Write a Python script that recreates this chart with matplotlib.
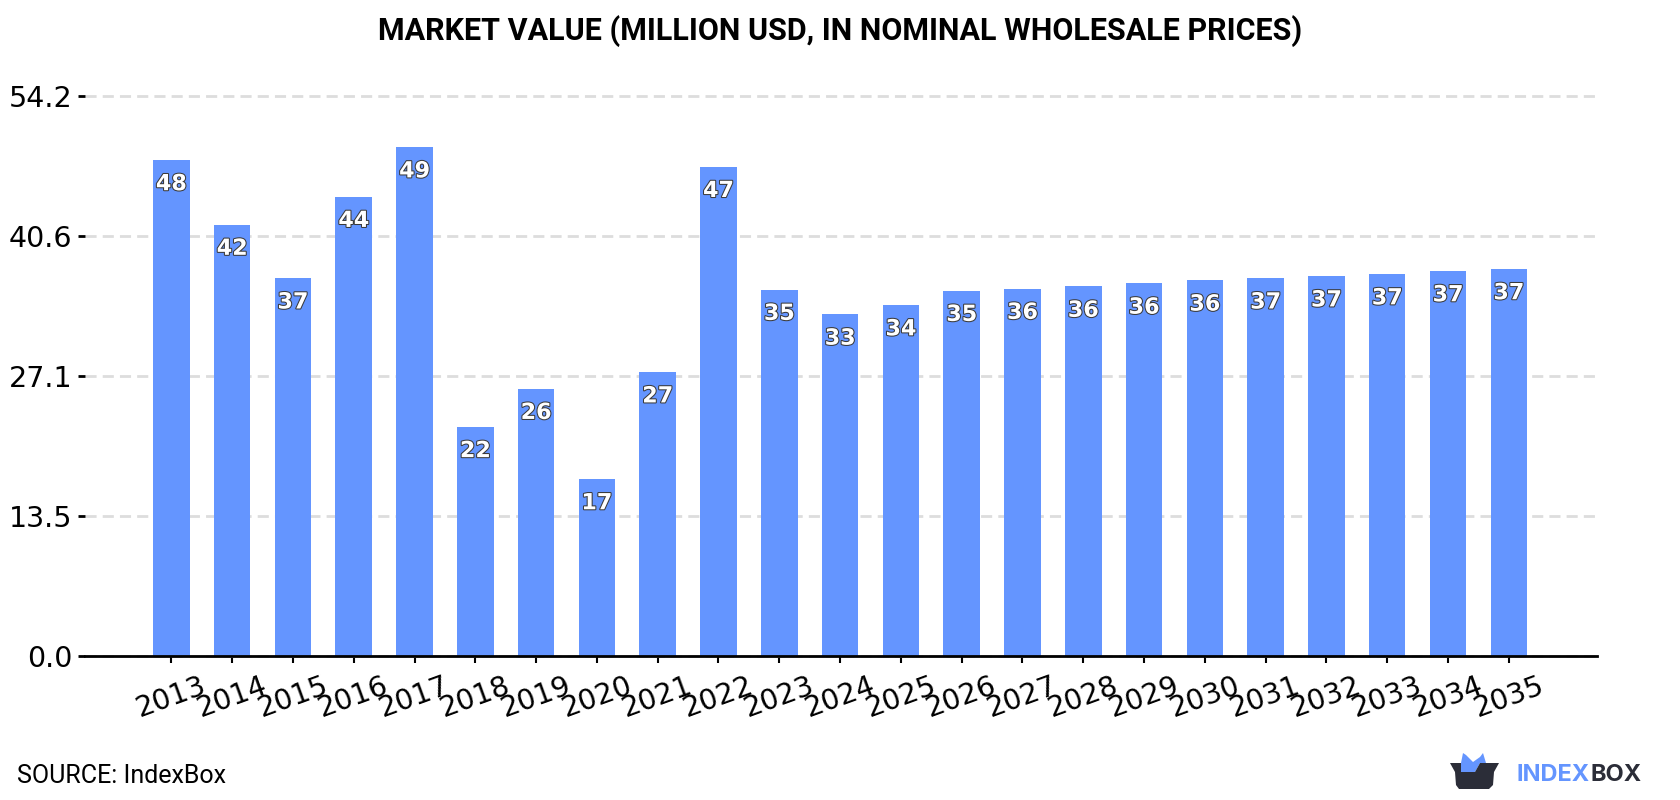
"""Market value bar chart, 2013-2035."""

import matplotlib
matplotlib.use("Agg")
import matplotlib.pyplot as plt
import matplotlib.patheffects as pe
from matplotlib.patches import Polygon

W, H = 1680, 800
BLUE = "#6495ff"
DARK = "#2b2d38"

years = list(range(2013, 2036))
values = [48.06, 41.8, 36.6, 44.5, 49.3, 22.2, 25.9, 17.15, 27.5, 47.4, 35.5, 33.1,
          34.0, 35.4, 35.6, 35.8, 36.1, 36.4, 36.6, 36.8, 37.0, 37.3, 37.5]
bar_labels = [48, 42, 37, 44, 49, 22, 26, 17, 27, 47, 35, 33,
              34, 35, 36, 36, 36, 36, 37, 37, 37, 37, 37]
y_ticks = [0.0, 13.55, 27.1, 40.65, 54.2]
y_tick_labels = ["0.0", "13.5", "27.1", "40.6", "54.2"]


def px(x, y):
    """Pixel position (from top left) to figure fraction."""
    return x / W, 1 - y / H


fig = plt.figure(figsize=(W / 100, H / 100), dpi=100)
ax = fig.add_axes([85 / W, 1 - 656 / H, (1597 - 85) / W, (656 - 96.5) / H])

ax.bar(years, values, width=0.6, color=BLUE, zorder=2)
for year, val, lab in zip(years, values, bar_labels):
    ax.annotate(str(lab), (year, val), xytext=(0, -17.5), textcoords="offset points",
                ha="center", va="center", fontsize=16, fontweight="bold", color="white",
                zorder=3, path_effects=[pe.withStroke(linewidth=1.5, foreground="#3a3a3a")])

ax.set_xlim(2013 - 1.42, 2013 + 23.45)
ax.set_ylim(0, 54.2)
ax.set_yticks(y_ticks)
ax.set_yticklabels(y_tick_labels, fontsize=20.5)
ax.set_xticks(years)
ax.set_xticklabels(years, rotation=20, fontsize=20.5)
ax.tick_params(axis="y", length=5, width=2, pad=4, color="black")
ax.tick_params(axis="x", length=5, width=1.5, pad=6, color="black")

ax.grid(axis="y", color="#dddddd", linestyle=(0, (4, 2.2)), linewidth=2, zorder=0, clip_on=False)
ax.set_axisbelow(True)
for side in ["top", "right", "left"]:
    ax.spines[side].set_visible(False)
ax.spines["bottom"].set_linewidth(2)
ax.spines["bottom"].set_zorder(4)

# title and source line
x, y = px(840, 31.5)
fig.text(x, y, "MARKET VALUE (MILLION USD, IN NOMINAL WHOLESALE PRICES)", ha="center", va="center",
         fontsize=22, fontweight="bold", family="Roboto", color="black")
x, y = px(17, 776)
fig.text(x, y, "SOURCE: IndexBox", ha="left", va="center", fontsize=18, family="Roboto", color="black")

# logo: tray with blue ears, then the wordmark
ears = [(1461, 763), (1463, 753), (1466, 755), (1473, 762), (1480, 757), (1483, 753),
        (1486, 763), (1480, 763), (1475, 772), (1461, 772)]
tray = [(1450, 763), (1461, 763), (1461, 772), (1475, 772), (1480, 763), (1499, 763), (1494, 772),
        (1493, 785), (1489, 789), (1459, 789), (1456, 785), (1455, 772)]
fig.add_artist(Polygon([px(*p) for p in ears], closed=True, color=BLUE, lw=0, transform=fig.transFigure))
fig.add_artist(Polygon([px(*p) for p in tray], closed=True, color=DARK, lw=0, transform=fig.transFigure))
x, y = px(1517, 775)
index_txt = fig.text(x, y, "INDEX", ha="left", va="center", fontsize=17, fontweight="bold",
                     family="Inter", color=BLUE)
# BOX starts right where INDEX ends
fig.canvas.draw()
end_x = index_txt.get_window_extent().x1
fig.text(end_x / W, y, "BOX", ha="left", va="center", fontsize=17, fontweight="bold",
         family="Inter", color=DARK)

fig.savefig("out.png", dpi=100)
